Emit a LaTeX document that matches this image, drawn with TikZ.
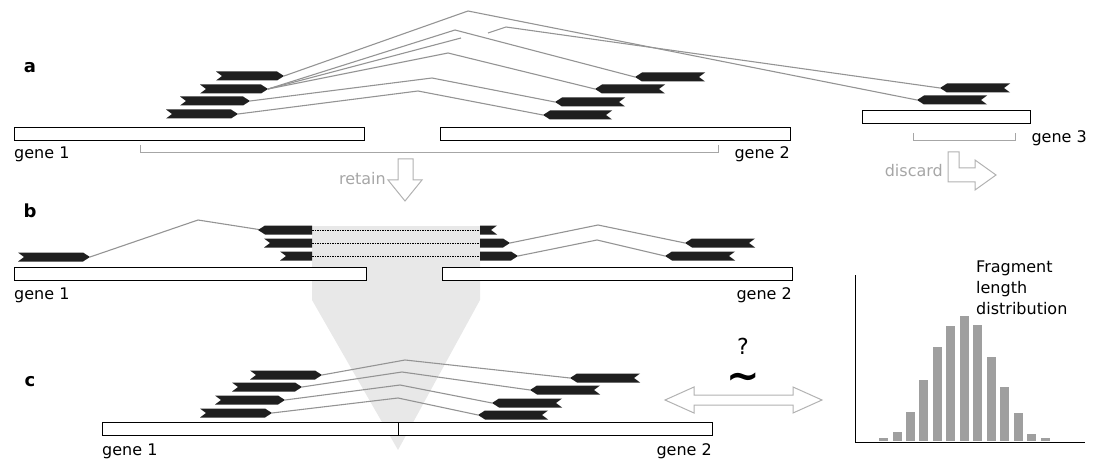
\documentclass[tikz,border=0pt]{standalone}
\usepackage{fontspec}
\setmainfont{DejaVu Sans}
\begin{document}
\newcommand\rdR[3]{\fill[rd] (#1,#3-4.5)--(#2-7,#3-4.5)--(#2,#3)--(#2-7,#3+4.5)--(#1,#3+4.5)--(#1+6,#3)--cycle;}
\newcommand\rdL[3]{\fill[rd] (#1,#3)--(#1+7,#3-4.5)--(#2,#3-4.5)--(#2-6,#3)--(#2,#3+4.5)--(#1+7,#3+4.5)--cycle;}
\begin{tikzpicture}[x=1pt,y=-1pt,
  rd/.style={fill=black!88},
  ln/.style={draw=black!42,line width=1.1pt},
  box/.style={draw=black,line width=0.8pt,fill=white},
  lab/.style={font=\fontsize{16}{16}\selectfont,inner sep=0pt},
  pl/.style={font=\fontsize{18}{18}\selectfont\bfseries,inner sep=0pt},
  gar/.style={draw=black!30,line width=1pt,fill=white},
  gt/.style={font=\fontsize{16}{16}\selectfont,text=black!35,inner sep=0pt}]
\useasboundingbox (0,0) rectangle (1098,476);
% ---------- panel a
\node[pl] (la) at (30,68) {a};
\draw[ln] (284,76)--(468,11)--(917,100);
\draw[ln] (268,89)--(455,30)--(635,77);
\draw[ln] (268,89)--(461,38);
\draw[ln] (488,33)--(506,27)--(940,88);
\draw[ln] (268,89)--(448,53)--(595,89);
\draw[ln] (250,101)--(432,78)--(555,102);
\draw[ln] (238,114)--(418,91)--(543,115);
\rdR{216}{284}{76}\rdR{200}{268}{89}\rdR{180}{250}{101}\rdR{166}{238}{114}
\rdL{635}{705}{77}\rdL{595}{665}{89}\rdL{555}{625}{102}\rdL{543}{612}{115}
\rdL{940}{1010}{88}\rdL{917}{987}{100}
\draw[box] (14,127) rectangle (364,140);
\draw[box] (440,127) rectangle (790,140);
\draw[box] (862,110) rectangle (1030,123);
\node[lab,anchor=west] (g1a) at (14,154) {gene 1};
\node[lab,anchor=east] (g2a) at (790,154) {gene 2};
\node[lab,anchor=east] (g3a) at (1087,138) {gene 3};
\draw[draw=black!35,line width=0.8pt] (140,145)--(140,152)--(718,152)--(718,145);
\draw[draw=black!35,line width=0.8pt] (913,133)--(913,140)--(1015,140)--(1015,133);
\draw[gar] (398,159)--(413,159)--(413,180)--(422,180)--(405,201)--(388,180)--(398,180)--cycle;
\node[gt,anchor=east] (ret) at (386,179) {retain};
\draw[gar] (948,152)--(959,152)--(959,168)--(975,168)--(975,160)--(996,175)--(975,190)--(975,182)--(948,182)--cycle;
\node[gt,anchor=east] (dis) at (943,171) {discard};
% ---------- panel b
\node[pl] (lb) at (30,211) {b};
\fill[black!9] (312,226)--(480,226)--(480,300)--(398,450)--(312,300)--cycle;
\draw[box] (14,267) rectangle (366,280);
\draw[box] (442,267) rectangle (792,280);
\foreach \y in {230,243,256} \draw[dash pattern=on 1.5pt off 1pt,line width=0.8pt] (312,\y)--(480,\y);
\draw[ln] (90,257)--(198,220)--(262,230);
\draw[ln] (510,243)--(598,225)--(685,243);
\draw[ln] (518,256)--(597,240)--(665,256);
\rdR{18}{90}{257}
\fill[rd] (258,230)--(265,225.5)--(312,225.5)--(312,234.5)--(265,234.5)--cycle;
\fill[rd] (264,238.5)--(312,238.5)--(312,247.5)--(264,247.5)--(270,243)--cycle;
\fill[rd] (280,251.5)--(312,251.5)--(312,260.5)--(280,260.5)--(286,256)--cycle;
\fill[rd] (480,225.5)--(497,225.5)--(491,230)--(497,234.5)--(480,234.5)--cycle;
\fill[rd] (480,238.5)--(503,238.5)--(510,243)--(503,247.5)--(480,247.5)--cycle;
\fill[rd] (480,251.5)--(511,251.5)--(518,256)--(511,260.5)--(480,260.5)--cycle;
\rdL{685}{755}{243}\rdL{665}{735}{256}
\node[lab,anchor=west] (g1b) at (14,295) {gene 1};
\node[lab,anchor=east] (g2b) at (792,295) {gene 2};
% ---------- panel c
\node[pl] (lc) at (30,382) {c};
\draw[ln] (322,375)--(405,360)--(570,378);
\draw[ln] (302,387)--(402,372)--(530,390);
\draw[ln] (285,400)--(400,385)--(492,403);
\draw[ln] (272,413)--(398,398)--(478,415);
\rdR{250}{322}{375}\rdR{232}{302}{387}\rdR{215}{285}{400}\rdR{200}{272}{413}
\rdL{570}{640}{378}\rdL{530}{600}{390}\rdL{492}{562}{403}\rdL{478}{548}{415}
\draw[box] (102,422) rectangle (712,435);
\draw[line width=0.8pt] (398,422)--(398,435);
\node[lab,anchor=west] (g1c) at (102,451) {gene 1};
\node[lab,anchor=east] (g2c) at (712,451) {gene 2};
\draw[gar] (665,400)--(694,387)--(694,395)--(793,395)--(793,387)--(822,400)--(793,413)--(793,405)--(694,405)--(694,413)--cycle;
\node[font=\fontsize{22}{22}\selectfont,inner sep=0pt] (q) at (743,346) {?};
\node[font=\fontsize{40}{40}\selectfont\bfseries,inner sep=0pt] (t) at (743,381) {\char`\~};
% ---------- histogram
\draw[line width=0.9pt] (855,275)--(855,442)--(1085,442);
\foreach \x/\t in {879/438,893/432,906/412,919/380,933/347,946/326,960/316,973/325,987/357,1000/387,1014/413,1027/434,1041/438}
  \fill[gray!75] (\x,\t) rectangle (\x+9,441);
\node[lab,anchor=west,align=left,font=\fontsize{16}{21}\selectfont] (fl) at (976,288) {Fragment\\length\\distribution};
\end{tikzpicture}
\end{document}
